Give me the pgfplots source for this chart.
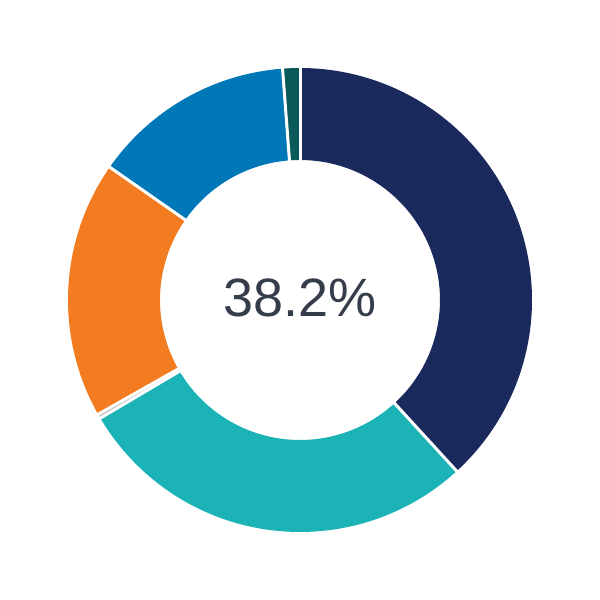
\documentclass[border=0pt]{standalone}
\usepackage{pgfplots}
\pgfplotsset{compat=1.18}
\usepackage{fontspec}
\setmainfont{Liberation Sans}
\definecolor{cnavy}{HTML}{1B2A5C}
\definecolor{cteal}{HTML}{1BB3B6}
\definecolor{cgray}{HTML}{B4B4B4}
\definecolor{corange}{HTML}{F47C20}
\definecolor{cblue}{HTML}{0077B6}
\definecolor{cgreen}{HTML}{0B5A5A}
\definecolor{ctext}{HTML}{363D4A}
% shares in percent
\def\vA{38.2}\def\vB{28.3}\def\vC{0.3}\def\vD{17.9}\def\vE{14.1}\def\vF{1.2}
\pgfmathsetmacro\aA{0}
\pgfmathsetmacro\aB{\aA+3.6*\vA}
\pgfmathsetmacro\aC{\aB+3.6*\vB}
\pgfmathsetmacro\aD{\aC+3.6*\vC}
\pgfmathsetmacro\aE{\aD+3.6*\vD}
\pgfmathsetmacro\aF{\aE+3.6*\vE}
\pgfmathsetmacro\aG{\aF+3.6*\vF}
\begin{document}
\begin{tikzpicture}
\begin{axis}[
  width=600pt, height=600pt, scale only axis,
  xmin=-300, xmax=300, ymin=-300, ymax=300,
  hide axis, clip=false]
\addplot[draw=none] coordinates {(-300,-300) (300,300)};
\addplot[cnavy, line width=92pt, domain=\aA:\aB, samples=120] ({186*sin(x)},{186*cos(x)});
\addplot[cteal, line width=92pt, domain=\aB:\aC, samples=120] ({186*sin(x)},{186*cos(x)});
\addplot[cgray, line width=92pt, domain=\aC:\aD, samples=5] ({186*sin(x)},{186*cos(x)});
\addplot[corange, line width=92pt, domain=\aD:\aE, samples=100] ({186*sin(x)},{186*cos(x)});
\addplot[cblue, line width=92pt, domain=\aE:\aF, samples=100] ({186*sin(x)},{186*cos(x)});
\addplot[cgreen, line width=92pt, domain=\aF:\aG, samples=10] ({186*sin(x)},{186*cos(x)});
\pgfplotsinvokeforeach{\aA,\aB,\aC,\aD,\aE,\aF}{
  \addplot[white, line width=3pt, domain=130:245, samples=2] ({x*sin(#1)},{x*cos(#1)});
}
\node[anchor=base, text=ctext, font=\fontsize{54}{60}\selectfont] at (axis cs:0,-17) {38.2\%};
\end{axis}
\end{tikzpicture}
\end{document}
